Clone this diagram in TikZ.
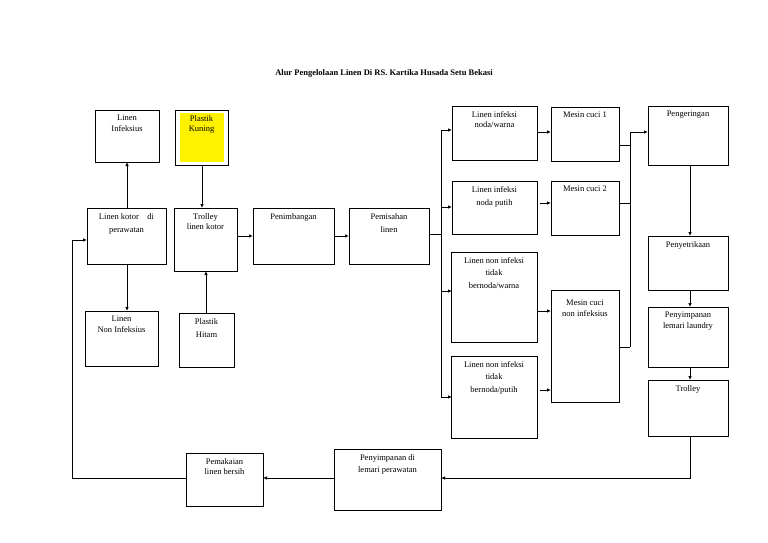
\documentclass[tikz,border=0pt]{standalone}
\usepackage{fontspec}
\setmainfont{Liberation Serif}
\usetikzlibrary{arrows.meta}
\begin{document}
\begin{tikzpicture}[x=1pt,y=-1pt,
 box/.style={draw,line width=0.8pt},
 lab/.style={font=\fontsize{8.5}{10.5}\selectfont,align=center,anchor=north,inner sep=0pt},
 ar/.style={line width=0.8pt,-{Latex[length=4pt,width=3.5pt]}},
 ln/.style={line width=0.8pt}]
\useasboundingbox (0,0) rectangle (768,543);
\node[font=\bfseries\fontsize{8.5}{10}\selectfont] (title) at (384,73) {Alur Pengelolaan Linen Di RS. Kartika Husada Setu Bekasi};
\newcommand{\bx}[6]{\draw[box] (#2,#3) rectangle (#4,#5); \coordinate (#1) at (#2,#3); \node[lab] (#1t) at ({(#2+#4)/2},#3+5) {#6};}
\fill[yellow] (180,113) rectangle (224,162);
\bx{li}{95}{110}{159}{162}{Linen\\Infeksius}
\bx{pk}{175}{110}{228}{165}{Plastik\\Kuning}
\bx{lk}{87}{208}{166}{264}{Linen kotor\quad di\\[3pt]perawatan}
\bx{tr}{174}{208}{237}{271}{Trolley\\linen kotor}
\bx{pn}{253}{208}{334}{264}{Penimbangan}
\bx{pm}{349}{208}{429}{264}{Pemisahan\\[3pt]linen}
\bx{ln}{85}{311}{158}{366}{Linen\\Non Infeksius}
\bx{ph}{179}{313}{234}{367}{Plastik\\[3pt]Hitam}
\bx{a1}{452}{106}{537}{160}{Linen infeksi\\noda/warna}
\bx{m1}{551}{107}{619}{161}{Mesin cuci 1}
\bx{a2}{452}{181}{537}{234}{Linen infeksi\\[3pt]noda putih}
\bx{m2}{551}{181}{619}{235}{Mesin cuci 2}
\bx{a3}{451}{252}{537}{342}{Linen non infeksi\\[2pt]tidak\\[2pt]bernoda/warna}
\bx{m3}{551}{290}{619}{402}{\\Mesin cuci\\non infeksius}
\bx{a4}{451}{356}{537}{438}{Linen non infeksi\\[2pt]tidak\\[2pt]bernoda/putih}
\bx{pg}{648}{106}{728}{165}{Pengeringan}
\bx{ps}{648}{236}{728}{290}{Penyetrikaan}
\bx{pl}{648}{307}{728}{367}{Penyimpanan\\lemari laundry}
\bx{tl}{648}{380}{728}{436}{Trolley}
\bx{pp}{334}{449}{441}{510}{Penyimpanan di\\[2pt]lemari perawatan}
\bx{pb}{186}{453}{263}{506}{Pemakaian\\linen bersih}
% arrows
\draw[ar] (127,208) -- (127,162);
\draw[ar] (202,165) -- (202,208);
\draw[ar] (127,264) -- (127,311);
\draw[ar] (206,313) -- (206,271);
\draw[ar] (237,236) -- (253,236);
\draw[ar] (334,236) -- (349,236);
\coordinate (sp) at (441,234);
\draw[ln] (429,234) -- (sp);
\draw[ln] (441,130) -- (441,397);
\draw[ar] (441,130) -- (452,130);
\draw[ar] (441,207) -- (452,207);
\draw[ar] (441,291) -- (452,291);
\draw[ar] (441,397) -- (452,397);
\draw[ar] (537,132) -- (551,132);
\draw[ar] (540,203) -- (551,203);
\draw[ar] (537,311) -- (551,311);
\draw[ar] (540,390) -- (551,390);
\draw[ln] (619,145) -- (630,145) (619,203) -- (630,203) (619,347) -- (630,347);
\draw[ln] (630,132) -- (630,347);
\draw[ar] (630,132) -- (648,132);
\draw[ar] (690,165) -- (690,236);
\draw[ar] (690,290) -- (690,307);
\draw[ar] (690,367) -- (690,380);
\draw[ar] (690,436) -- (690,478) -- (441,478);
\draw[ar] (334,478) -- (263,478);
\draw[ar] (186,478) -- (72,478) -- (72,240) -- (87,240);
\end{tikzpicture}
\end{document}
